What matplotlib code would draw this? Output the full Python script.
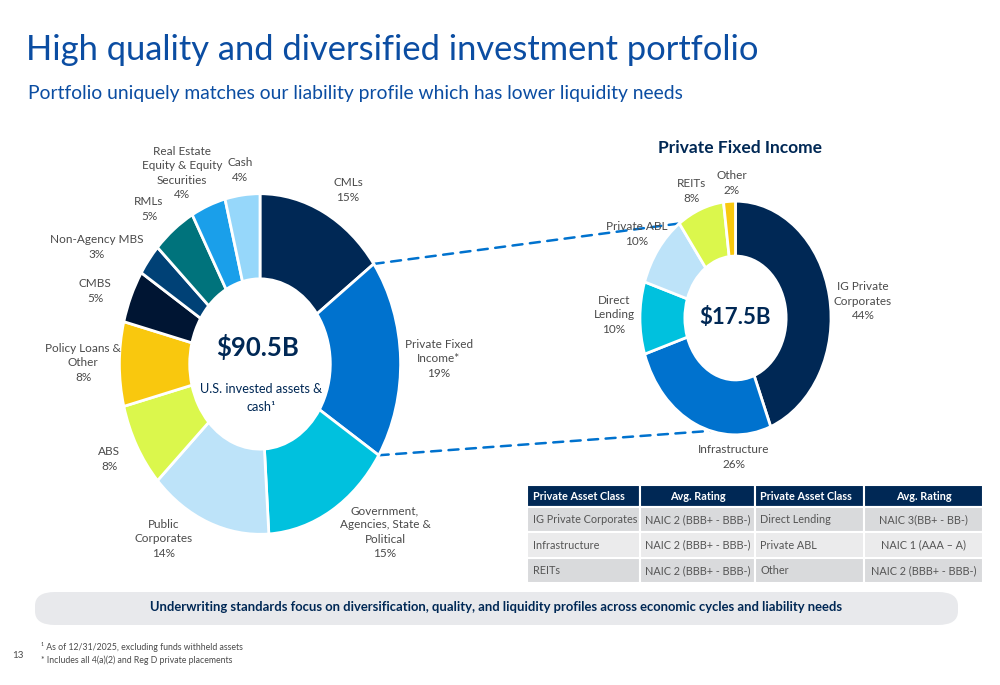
import numpy as np
import matplotlib
matplotlib.use("Agg")
import matplotlib.pyplot as plt
from matplotlib.patches import FancyBboxPatch, ConnectionPatch

plt.rcParams["font.family"] = ["Lato", "DejaVu Sans"]

# ============================================================
# data
# ============================================================
total_label = "$90.5B"
total_sub = "U.S. invested assets &\ncash\u00b9"
us_labels = ["CMLs", "Private Fixed\nIncome*", "Government,\nAgencies, State &\nPolitical",
             "Public\nCorporates", "ABS", "Policy Loans &\nOther", "CMBS",
             "Non-Agency MBS", "RMLs", "Real Estate\nEquity & Equity\nSecurities", "Cash"]
us_pct = [15, 19, 15, 14, 8, 8, 5, 3, 5, 4, 4]

pfi_total = "$17.5B"
pfi_labels = ["IG Private\nCorporates", "Infrastructure", "Direct\nLending",
              "Private ABL", "REITs", "Other"]
pfi_pct = [44, 26, 10, 10, 8, 2]

table_header = ["Private Asset Class", "Avg. Rating", "Private Asset Class", "Avg. Rating"]
table_rows = [
    ["IG Private Corporates", "NAIC 2 (BBB+ - BBB-)", "Direct Lending", "NAIC 3(BB+ - BB-)"],
    ["Infrastructure", "NAIC 2 (BBB+ - BBB-)", "Private ABL", "NAIC 1 (AAA \u2013 A)"],
    ["REITs", "NAIC 2 (BBB+ - BBB-)", "Other", "NAIC 2 (BBB+ - BBB-)"],
]

# ============================================================
# styles / layout
# ============================================================
NAVY = "#002855"
BLUE = "#0B4DA2"
GRAY = "#4a4a4a"
us_colors = ["#002855", "#0072CE", "#00C1DE", "#BDE3F9", "#DBF74C", "#F9C80E",
             "#001533", "#004176", "#00737C", "#1A9FEA", "#96D7FA"]
pfi_colors = ["#002855", "#0072CE", "#00C1DE", "#BDE3F9", "#DBF74C", "#F9C80E"]

# label centres in pixels (x from left, y from top)
us_label_pos = [(348, 190), (439, 359), (385, 532), (164, 539), (109, 459), (83, 363),
                (95, 291), (97, 247), (149, 209), (182, 173), (240, 170)]
pfi_label_pos = [(863, 301), (734, 457), (614, 315), (637, 234), (691, 191), (732, 183)]

W, H = 1000, 685
fig = plt.figure(figsize=(10, 6.85), dpi=100)


def fx(x):
    return x / W


def fy(y):
    return 1 - y / H


def box(x0, y0, x1, y1):
    return [fx(x0), fy(y1), fx(x1) - fx(x0), fy(y0) - fy(y1)]


# titles
fig.text(fx(26), fy(50), "High quality and diversified investment portfolio",
         fontsize=24.8, color=BLUE, va="center", ha="left")
fig.text(fx(28), fy(93), "Portfolio uniquely matches our liability profile which has lower liquidity needs",
         fontsize=13.9, color=BLUE, va="center", ha="left")


def donut(ax, pct, colors, width):
    ax.pie(pct, colors=colors, startangle=90, counterclock=False, radius=1,
           wedgeprops=dict(width=width, edgecolor="white", linewidth=2))
    ax.set_aspect("auto")
    ax.set_xlim(-1.01, 1.01)
    ax.set_ylim(-1.01, 1.01)
    ax.axis("off")


def edge_point(pct, frac_index):
    # point on outer edge at cumulative boundary (clockwise from top)
    ang = np.deg2rad(90 - 360 * sum(pct[:frac_index]) / sum(pct))
    return (np.cos(ang), np.sin(ang))


ax1 = fig.add_axes(box(118, 192, 402, 536))
donut(ax1, us_pct, us_colors, 0.5)
ax1.text(-0.02, 0.1, total_label, ha="center", va="center", fontsize=18.5,
         fontweight="bold", color=NAVY)
ax1.text(0.01, -0.2, total_sub, ha="center", va="center", fontsize=9.2,
         color=NAVY, linespacing=1.55)

ax2 = fig.add_axes(box(639, 200, 832, 436))
donut(ax2, pfi_pct, pfi_colors, 0.47)
ax2.text(0, 0.0, pfi_total, ha="center", va="center", fontsize=16,
         fontweight="bold", color=NAVY)
fig.text(fx(740), fy(148), "Private Fixed Income", ha="center", va="center",
         fontsize=12.5, fontweight="bold", color=NAVY)

# labels
for lab, p, (x, y) in zip(us_labels, us_pct, us_label_pos):
    fig.text(fx(x), fy(y), f"{lab}\n{p}%", ha="center", va="center",
             fontsize=8.5, color=GRAY, linespacing=1.35)
for lab, p, (x, y) in zip(pfi_labels, pfi_pct, pfi_label_pos):
    fig.text(fx(x), fy(y), f"{lab}\n{p}%", ha="center", va="center",
             fontsize=8.5, color=GRAY, linespacing=1.35)

# dashed connectors from the Private Fixed Income slice
a_top = edge_point(us_pct, 1)
a_bot = edge_point(us_pct, 2)
b_top = edge_point(pfi_pct, 4)
ang = np.deg2rad(90 - 195)
b_bot = (np.cos(ang), np.sin(ang))
for pa, pb in [(a_top, b_top), (a_bot, b_bot)]:
    con = ConnectionPatch(xyA=pa, coordsA=ax1.transData, xyB=pb, coordsB=ax2.transData,
                          color="#0072CE", linestyle=(0, (4, 3)), linewidth=1.8, zorder=0)
    fig.add_artist(con)

# table
axt = fig.add_axes(box(527, 485, 983, 583))
axt.axis("off")
tbl = axt.table(cellText=table_rows, colLabels=table_header, bbox=[0, 0, 1, 1],
                colWidths=[113, 115, 109, 119])
tbl.auto_set_font_size(False)
for (r, c), cell in tbl.get_celld().items():
    cell.set_edgecolor("white")
    cell.set_linewidth(1.5)
    cell.set_fontsize(7.8)
    if r == 0:
        cell.set_height(22)
        cell.set_facecolor(NAVY)
        cell.get_text().set_color("white")
        cell.get_text().set_fontweight("bold")
    else:
        cell.set_height(25)
        cell.set_facecolor("#d9dadc" if r % 2 == 1 else "#ebebec")
        cell.get_text().set_color("#555555")
    if c in (0, 2):
        cell.get_text().set_ha("left")
        cell.PAD = 0.05
    else:
        cell.get_text().set_ha("center")

# banner
banner = FancyBboxPatch((fx(35), fy(625)), fx(958) - fx(35), fy(592) - fy(625),
                        boxstyle="round,pad=0,rounding_size=0.02",
                        transform=fig.transFigure, facecolor="#e8e9ec", edgecolor="none")
fig.add_artist(banner)
fig.text(fx(496), fy(607),
         "Underwriting standards focus on diversification, quality, and liquidity profiles across economic cycles and liability needs",
         ha="center", va="center", fontsize=9.4, fontweight="bold", color=NAVY)

# footer
fig.text(fx(18), fy(656), "13", ha="center", va="center", fontsize=7, color=GRAY)
fig.text(fx(41), fy(647), "\u00b9 As of 12/31/2025, excluding funds withheld assets",
         ha="left", va="center", fontsize=6.3, color=GRAY)
fig.text(fx(41), fy(660), "* Includes all 4(a)(2) and Reg D private placements",
         ha="left", va="center", fontsize=6.3, color=GRAY)

fig.savefig("out.png", dpi=100)
